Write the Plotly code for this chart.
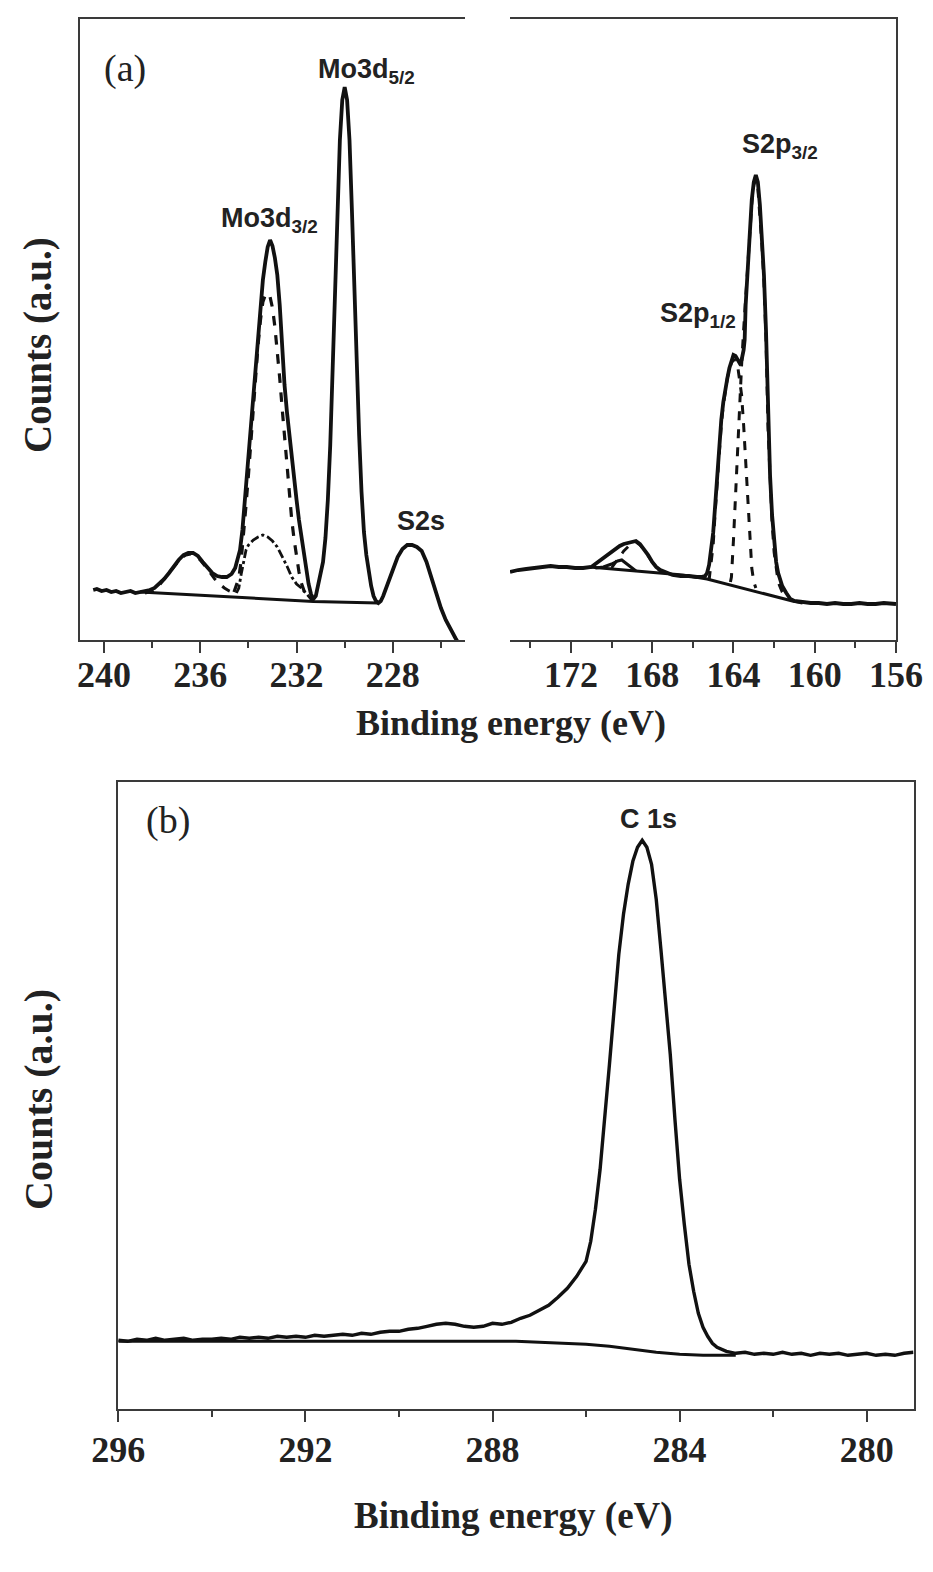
import plotly.graph_objects as go

W, H = 933, 1572

# ---------------- Panel (a), Mo 3d region ----------------
mo_E = [240.45, 240.3, 240.1, 239.9, 239.7, 239.5, 239.3, 239.1, 238.9, 238.7, 238.5, 238.3, 238.1,
        237.9, 237.7, 237.5, 237.3, 237.1, 236.9, 236.7, 236.5, 236.3, 236.1, 235.9, 235.7, 235.5,
        235.3, 235.1, 234.9, 234.7, 234.55, 234.45, 234.35, 234.25, 234.15, 234.05, 233.95, 233.8,
        233.7, 233.6, 233.5, 233.4, 233.3, 233.2, 233.1, 233.0, 232.9, 232.8, 232.7, 232.6, 232.5,
        232.4, 232.3, 232.2, 232.1, 232.0, 231.9, 231.8, 231.7, 231.6, 231.5, 231.4, 231.3, 231.2,
        231.1, 231.0, 230.9, 230.8, 230.7, 230.6, 230.5, 230.4, 230.3, 230.2, 230.1, 230.0, 229.9,
        229.8, 229.7, 229.6, 229.5, 229.4, 229.3, 229.2, 229.1, 229.0, 228.9, 228.8, 228.7, 228.6,
        228.5, 228.4, 228.3, 228.2, 228.0, 227.8, 227.6, 227.4, 227.2, 227.0, 226.8, 226.6, 226.4,
        226.2, 226.0, 225.8, 225.6, 225.4, 225.2]
mo_env = [50, 51, 49, 50, 48, 49, 47, 48, 49, 47, 48, 49, 50,
          52, 56, 61, 67, 74, 80, 85, 87, 87, 84, 78, 72, 67,
          64, 63, 63, 66, 72, 80, 90, 110, 140, 165, 195, 240,
          272, 305, 338, 360, 378, 393, 400, 394, 382, 365, 335, 290, 255,
          228, 205, 180, 160, 140, 120, 103, 88, 72, 56, 46, 41, 44,
          55, 68, 78, 102, 140, 195, 270, 350, 430, 500, 540, 553, 540,
          500, 430, 350, 275, 205, 148, 108, 85, 68, 54, 44, 39, 37,
          39, 44, 51, 58, 70, 83, 91, 95, 95, 93, 89, 78, 62,
          47, 32, 20, 10, 2, -6]

mo_bg_E = [238.5, 231.3, 228.6]
mo_bg = [48, 38.5, 37]

# Mo3d3/2 main fitted component (dashed)
moA_E = [234.6, 234.4, 234.3, 234.2, 234.1, 234.0, 233.9, 233.8, 233.7, 233.6, 233.5, 233.4, 233.3,
         233.2, 233.1, 233.0, 232.9, 232.8, 232.7, 232.6, 232.5, 232.4, 232.3, 232.2, 232.1, 232.0,
         231.9, 231.8, 231.7, 231.6, 231.5]
moA = [48, 62, 80, 105, 135, 165, 200, 232, 265, 295, 320, 338, 345,
       347, 343, 332, 313, 290, 262, 232, 202, 172, 145, 120, 100, 82,
       68, 57, 49, 43, 41]

# minor Mo component (dash-dot)
moB_E = [234.5, 234.4, 234.3, 234.2, 234.1, 234.0, 233.8, 233.6, 233.4, 233.2, 233.0, 232.8, 232.6,
         232.4, 232.2, 232.0, 231.8, 231.6, 231.4, 231.3]
moB = [47, 52, 66, 80, 90, 95, 100, 103, 105, 103, 99, 93, 84,
       74, 63, 56, 52, 46, 41, 40]

# Mo component near 236.4 eV (dashed)
moC_E = [238.3, 238.0, 237.8, 237.6, 237.4, 237.2, 237.0, 236.8, 236.6, 236.4, 236.2, 236.0, 235.8,
         235.6, 235.4, 235.2, 235.0, 234.8, 234.6]
moC = [47, 49, 52, 58, 64, 71, 77, 82, 85, 86, 84, 80, 74,
       67, 61, 56, 52, 49, 47]

# ---------------- Panel (a), S 2p region ----------------
s_E = [175.0, 174.6, 174.2, 173.8, 173.4, 173.0, 172.6, 172.2, 171.8, 171.4, 171.0, 170.8, 170.6,
       170.4, 170.2, 170.0, 169.8, 169.6, 169.4, 169.2, 169.0, 168.8, 168.6, 168.4, 168.2, 168.0,
       167.8, 167.6, 167.4, 167.2, 167.0, 166.6, 166.2, 165.8, 165.6, 165.4, 165.3, 165.2, 165.1,
       165.0, 164.9, 164.8, 164.7, 164.6, 164.5, 164.4, 164.3, 164.2, 164.1, 164.0, 163.9, 163.8,
       163.7, 163.6, 163.5, 163.45, 163.4, 163.3, 163.2, 163.1, 163.0, 162.9, 162.8, 162.7, 162.6,
       162.5, 162.4, 162.3, 162.2, 162.1, 162.0, 161.9, 161.8, 161.6, 161.4, 161.2, 161.0, 160.6,
       160.2, 159.8, 159.4, 159.0, 158.6, 158.2, 157.8, 157.4, 157.0, 156.6, 156.2, 156.0]
s_env = [68, 70, 71, 72, 73, 74, 73, 73, 72, 72, 73, 76, 79,
         83, 86, 89, 92, 94, 96, 97, 98, 99, 96, 91, 85, 78,
         73, 70, 68, 66, 65, 64, 64, 63, 63, 64, 67, 75, 90,
         107, 135, 165, 198, 220, 238, 252, 262, 272, 280, 285, 284, 280,
         277, 280, 290, 300, 335, 370, 410, 440, 458, 465, 458, 435, 400,
         365, 310, 220, 165, 125, 95, 78, 67, 54, 47, 41, 39, 38,
         37, 37, 36, 37, 36, 36, 37, 36, 36, 37, 36, 36]

s_bg_E = [171.1, 170.0, 169.0, 167.6, 166.5, 165.3, 164.0, 163.0, 162.0, 161.1, 160.6]
s_bg = [73, 71, 69, 67, 65, 61, 54, 49, 44, 39, 37]

# sulfate-type components near 169 eV
sA_E = [170.8, 170.4, 170.0, 169.7, 169.5, 169.3, 169.0, 168.8]
sA = [72, 73, 76, 79, 80, 77, 72, 69]
sB_E = [170.0, 169.8, 169.6, 169.4, 169.2, 169.0, 168.8, 168.6, 168.4, 168.2, 168.0, 167.8, 167.6]
sB = [72, 78, 84, 89, 93, 97, 98, 95, 90, 84, 77, 72, 69]

# S2p1/2 component (dashed)
s12_E = [165.2, 165.0, 164.9, 164.8, 164.7, 164.6, 164.5, 164.4, 164.3, 164.2, 164.1, 164.0, 163.9,
         163.8, 163.7, 163.6, 163.5, 163.4, 163.3, 163.2, 163.1, 163.0, 162.9]
s12 = [60, 95, 128, 160, 192, 215, 235, 250, 262, 271, 277, 280, 280,
       275, 262, 245, 215, 180, 140, 100, 72, 58, 52]

# S2p3/2 component (dashed)
s32_E = [164.15, 164.1, 164.0, 163.9, 163.8, 163.7, 163.6, 163.5, 163.4, 163.3, 163.2, 163.1, 163.0,
         162.9, 162.8, 162.7, 162.6, 162.5, 162.4, 162.3, 162.2, 162.1, 162.0, 161.9, 161.8, 161.6,
         161.4]
s32 = [58, 63, 100, 145, 195, 240, 275, 310, 340, 370, 408, 436, 455,
       461, 452, 428, 395, 358, 302, 212, 158, 118, 88, 70, 58, 48,
       43]

# ---------------- Panel (b), C 1s ----------------
c_E = [296.0, 295.8, 295.6, 295.4, 295.2, 295.0, 294.8, 294.6, 294.4, 294.2, 294.0, 293.8, 293.6,
       293.4, 293.2, 293.0, 292.8, 292.6, 292.4, 292.2, 292.0, 291.8, 291.6, 291.4, 291.2, 291.0,
       290.8, 290.6, 290.4, 290.2, 290.0, 289.8, 289.6, 289.4, 289.2, 289.0, 288.8, 288.6, 288.4,
       288.2, 288.0, 287.8, 287.6, 287.4, 287.2, 287.0, 286.8, 286.6, 286.4, 286.2, 286.0, 285.9,
       285.8, 285.7, 285.6, 285.5, 285.4, 285.3, 285.2, 285.1, 285.0, 284.9, 284.8, 284.7, 284.6,
       284.5, 284.4, 284.3, 284.2, 284.1, 284.0, 283.9, 283.8, 283.7, 283.6, 283.5, 283.4, 283.3,
       283.2, 283.0, 282.8, 282.6, 282.4, 282.2, 282.0, 281.8, 281.6, 281.4, 281.2, 281.0, 280.8,
       280.6, 280.4, 280.2, 280.0, 279.8, 279.6, 279.4, 279.2, 279.0]
c_env = [69, 68, 70, 69, 71, 69, 70, 71, 69, 70, 70, 71, 70,
         72, 71, 72, 71, 73, 72, 73, 72, 74, 73, 74, 75, 74,
         76, 75, 77, 78, 78, 80, 81, 83, 85, 86, 85, 83, 82,
         83, 86, 85, 87, 91, 94, 99, 104, 112, 121, 133, 148, 168,
         200, 240, 290, 345, 400, 455, 495, 525, 548, 562, 569, 562, 545,
         510, 460, 410, 355, 290, 230, 185, 145, 118, 96, 82, 73, 66,
         62, 58, 56, 57, 55, 56, 55, 57, 55, 56, 54, 56, 55,
         56, 54, 55, 56, 54, 55, 54, 56, 57]

c_bg_E = [296.0, 288.5, 287.5, 287.0, 286.5, 286.0, 285.5, 285.0, 284.5, 284.0, 283.5, 283.0, 282.8]
c_bg = [68, 68, 68, 67, 66, 65, 63, 60, 57, 55, 54, 54, 54]

# ---------------- Figure ----------------
INK = "#111111"
AX = "#3a3a3a"
LW = 3.8

fig = go.Figure()

def add(x, y, xa, ya, dash="solid", width=LW):
    fig.add_trace(go.Scatter(x=x, y=y, xaxis=xa, yaxis=ya, mode="lines",
                             line=dict(color=INK, width=width, dash=dash),
                             hoverinfo="skip", showlegend=False))

add(mo_bg_E, mo_bg, "x", "y", width=3)
add(moC_E, moC, "x", "y", dash="dash", width=3)
add(moA_E, moA, "x", "y", dash="dash", width=3.2)
add(moB_E, moB, "x", "y", dash="dashdot", width=2.8)
add(mo_E, mo_env, "x", "y")

add(s_bg_E, s_bg, "x2", "y2", width=3)
add(sA_E, sA, "x2", "y2", width=3)
add(sB_E, sB, "x2", "y2", dash="dash", width=2.8)
add(s12_E, s12, "x2", "y2", dash="dash", width=3)
add(s32_E, s32, "x2", "y2", dash="dash", width=3)
add(s_E, s_env, "x2", "y2")

add(c_bg_E, c_bg, "x3", "y3", width=3)
add(c_E, c_env, "x3", "y3", width=3.4)

SERIF = "Liberation Serif, Times New Roman, serif"
tickfont = dict(family=SERIF, size=36, color="#222", weight="bold")

def xax(dom, rng, major, minor, anchor, standoff):
    return dict(domain=dom, range=rng, anchor=anchor, showline=True, linecolor=AX, linewidth=2,
                mirror=True, ticks="outside", ticklen=11, tickwidth=2, tickcolor=AX,
                tickvals=major, ticktext=[str(v) for v in major], tickfont=tickfont,
                ticklabelstandoff=standoff, automargin=False,
                minor=dict(tickvals=minor, ticks="outside", ticklen=6, tickwidth=2, tickcolor=AX),
                showgrid=False, zeroline=False, fixedrange=True)

def yax(dom, rng, anchor, side="left", mirror=False):
    return dict(domain=dom, range=rng, anchor=anchor, side=side, showline=True, linecolor=AX,
                linewidth=2, mirror=mirror, ticks="", showticklabels=False, showgrid=False,
                zeroline=False, fixedrange=True, automargin=False)

ya_dom = [1 - 640 / H, 1 - 19 / H]
yb_dom = [1 - 1409.3 / H, 1 - 782.3 / H]

fig.update_layout(
    width=W, height=H, margin=dict(l=0, r=0, t=0, b=0, pad=0, autoexpand=False),
    paper_bgcolor="white", plot_bgcolor="white", showlegend=False,
    xaxis=xax([80 / W, 465 / W], [241, 225], [240, 236, 232, 228], [238, 234, 230, 226], "y", -9),
    yaxis=yax(ya_dom, [0, 621], "x"),
    xaxis2=xax([510 / W, 896 / W], [175, 156], [172, 168, 164, 160, 156], [174, 170, 166, 162, 158], "y2", -9),
    yaxis2=yax(ya_dom, [0, 621], "x2", side="right"),
    xaxis3=xax([118.3 / W, 913.5 / W], [296, 279], [296, 292, 288, 284, 280], [294, 290, 286, 282], "y3", -4),
    yaxis3=yax(yb_dom, [0, 627], "x3", mirror=True),
)

serif_b = dict(family=SERIF, size=36, color="#222", weight="bold")
serif = dict(family=SERIF, size=38, color="#222")
sans_b = dict(family="Liberation Sans, Arial, sans-serif", size=27, color="#222", weight="bold")

def ann(text, px, py, font, xanchor="left", yanchor="top", angle=0):
    fig.add_annotation(text=text, x=px / W, y=1 - py / H, xref="paper", yref="paper",
                       xanchor=xanchor, yanchor=yanchor, showarrow=False, font=font,
                       textangle=angle)

ann("Counts (a.u.)", 38, 345, dict(serif_b, size=39), xanchor="center", yanchor="middle", angle=-90)
ann("Binding energy (eV)", 511, 723, serif_b, xanchor="center", yanchor="middle")
ann("Counts (a.u.)", 38, 1100, dict(serif_b, size=40), xanchor="center", yanchor="middle", angle=-90)
ann("Binding energy (eV)", 513, 1516, dict(serif_b, size=37), xanchor="center", yanchor="middle")

ann("(a)", 102, 69, serif, yanchor="middle")
ann("(b)", 144, 820, serif, yanchor="middle")
ann("Mo3d<sub>5/2</sub>", 316, 52, sans_b)
ann("Mo3d<sub>3/2</sub>", 219, 201, sans_b)
ann("S2s", 395, 504, sans_b)
ann("S2p<sub>3/2</sub>", 740, 127, sans_b)
ann("S2p<sub>1/2</sub>", 658, 296, sans_b)
ann("C 1s", 618, 802, sans_b)

fig.write_html("out.html")
